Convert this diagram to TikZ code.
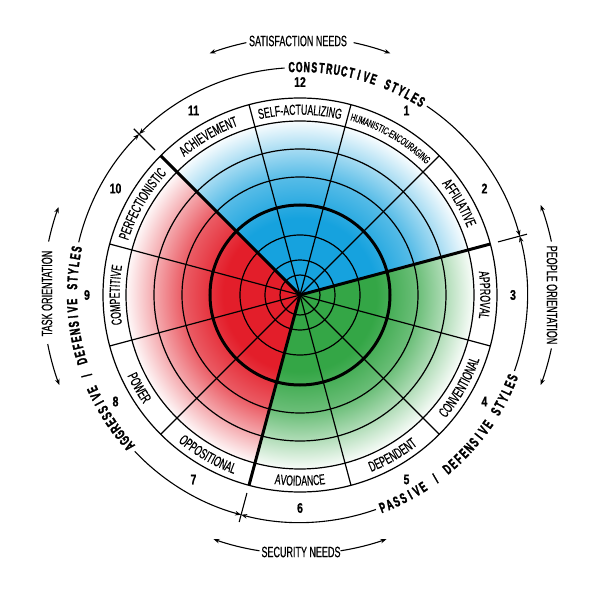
\documentclass[tikz,border=0pt]{standalone}
\usepackage{fontspec}
\usetikzlibrary{arrows.meta,decorations.text}
\newfontfamily\condfont[FakeStretch=0.6,FakeBold=0.4]{Liberation Sans}
\newfontfamily\heavyfont[FakeStretch=0.6,FakeBold=1.8,UprightFont={* Bold}]{Liberation Sans}
\newfontfamily\numfont[FakeStretch=0.75,FakeBold=0.6,UprightFont={* Bold}]{Liberation Sans}
\definecolor{cblue}{RGB}{22,162,222}
\definecolor{cred}{RGB}{227,30,42}
\definecolor{cgreen}{RGB}{52,166,70}
\pgfdeclareradialshading{bluesh}{\pgfpoint{0bp}{0bp}}{color(0bp)=(cblue); color(11bp)=(cblue); color(17bp)=(cblue!72!white); color(21bp)=(cblue!38!white); color(25bp)=(cblue!3!white); color(50bp)=(white)}
\pgfdeclareradialshading{redsh}{\pgfpoint{0bp}{0bp}}{color(0bp)=(cred); color(11bp)=(cred); color(17bp)=(cred!72!white); color(21bp)=(cred!38!white); color(25bp)=(cred!3!white); color(50bp)=(white)}
\pgfdeclareradialshading{greensh}{\pgfpoint{0bp}{0bp}}{color(0bp)=(cgreen); color(11bp)=(cgreen); color(17bp)=(cgreen!72!white); color(21bp)=(cgreen!38!white); color(25bp)=(cgreen!3!white); color(50bp)=(white)}
\newcommand\lblfont{\condfont\fontsize{14.5}{16}\selectfont}
\newcommand\tinylbl{\condfont\fontsize{10.5}{12}\selectfont}
% band label, reading clockwise (tops outward)
\newcommand\bandcw[4]{%
  \pgfmathsetmacro\bstart{#1+15}\pgfmathsetmacro\bend{#1-15}%
  \path[decorate,decoration={text along path,text align=center,text={|#3|#4}}]
    (\bstart:#2) arc[start angle=\bstart,end angle=\bend,radius=#2];}
% band label, reading counter-clockwise (tops inward)
\newcommand\bandccw[4]{%
  \pgfmathsetmacro\bstart{#1-15}\pgfmathsetmacro\bend{#1+15}%
  \path[decorate,decoration={text along path,text align=center,text={|#3|#4}}]
    (\bstart:#2) arc[start angle=\bstart,end angle=\bend,radius=#2];}
% spaced heavy letters on the outer arc
\newcommand\stylecw[4]{%
  \foreach \ch [count=\i] in {#4}{%
    \pgfmathsetmacro\ang{#2+((#3+1)/2-\i)*1.9}%
    \node[styletxt,rotate=\ang-90] (#1\i) at (\ang:228) {\ch};}}
\newcommand\styleccw[4]{%
  \foreach \ch [count=\i] in {#4}{%
    \pgfmathsetmacro\ang{#2-((#3+1)/2-\i)*1.9}%
    \node[styletxt,rotate=\ang+90] (#1\i) at (\ang:228) {\ch};}}
\begin{document}
\begin{tikzpicture}[x=1pt,y=1pt,
  gridline/.style={line width=1.2pt,black},
  boldline/.style={line width=3pt,black},
  outerarc/.style={line width=1.1pt,black},
  tip/.style={-{Stealth[length=6pt,width=4.5pt]}},
  styletxt/.style={font=\heavyfont\fontsize{14.5}{16}\selectfont,inner sep=0pt,anchor=center},
  numtxt/.style={font=\numfont\fontsize{14}{16}\selectfont,inner sep=0pt,anchor=center},
  needtxt/.style={font=\condfont\fontsize{15}{17}\selectfont,inner sep=0pt,anchor=center}]
\useasboundingbox (-300,-305) rectangle (300,295);
\fill[white] (-300,-305) rectangle (300,295);

% shaded sectors
\begin{scope}
  \clip (0,0) -- (15:174) arc[start angle=15,end angle=135,radius=174] -- cycle;
  \shade[shading=bluesh] (0,0) circle[radius=174];
\end{scope}
\begin{scope}
  \clip (0,0) -- (135:174) arc[start angle=135,end angle=255,radius=174] -- cycle;
  \shade[shading=redsh] (0,0) circle[radius=174];
\end{scope}
\begin{scope}
  \clip (0,0) -- (-105:174) arc[start angle=-105,end angle=15,radius=174] -- cycle;
  \shade[shading=greensh] (0,0) circle[radius=174];
\end{scope}

% grid
\foreach \r in {20,35,60,118,146,174,197} \draw[gridline] (0,0) circle[radius=\r];
\draw[boldline] (0,0) circle[radius=90];
\foreach \a in {15,45,...,345} \draw[gridline] (0,0) -- (\a:197);
\foreach \a in {15,135,255} \draw[boldline] (0,0) -- (\a:197);

% band labels
\bandcw{90}{180.3}{\lblfont}{SELF-ACTUALIZING}
\bandcw{60}{181.7}{\tinylbl}{HUMANISTIC-ENCOURAGING}
\bandcw{30}{180.3}{\lblfont}{AFFILIATIVE}
\bandcw{0}{180.3}{\lblfont}{APPROVAL}
\bandccw{-30}{190.7}{\lblfont}{CONVENTIONAL}
\bandccw{-60}{190.7}{\lblfont}{DEPENDENT}
\bandccw{-90}{190.7}{\lblfont}{AVOIDANCE}
\bandccw{-120}{190.7}{\lblfont}{OPPOSITIONAL}
\bandccw{-150}{190.7}{\lblfont}{POWER}
\bandcw{180}{180.3}{\lblfont}{COMPETITIVE}
\bandcw{150}{180.3}{\lblfont}{PERFECTIONISTIC}
\bandcw{120}{180.3}{\lblfont}{ACHIEVEMENT}

% numbers
\node[numtxt] (n12) at (90:213) {12};
\node[numtxt] (n1) at (60:213) {1};
\node[numtxt] (n2) at (30:213) {2};
\node[numtxt] (n3) at (0:213) {3};
\node[numtxt] (n4) at (-30:213) {4};
\node[numtxt] (n5) at (-60:213) {5};
\node[numtxt] (n6) at (-90:213) {6};
\node[numtxt] (n7) at (-120:213) {7};
\node[numtxt] (n8) at (-150:213) {8};
\node[numtxt] (n9) at (180:213) {9};
\node[numtxt] (n10) at (150:213) {10};
\node[numtxt] (n11) at (120:213) {11};

% style arcs with arrows to ticks
\draw[outerarc,tip] (93.9:227.5) arc[start angle=93.9,end angle=135,radius=227.5];
\draw[outerarc,tip] (56.1:227.5) arc[start angle=56.1,end angle=15,radius=227.5];
\draw[outerarc,tip] (-19.5:227.5) arc[start angle=-19.5,end angle=15,radius=227.5];
\draw[outerarc,tip] (-70.5:227.5) arc[start angle=-70.5,end angle=-105,radius=227.5];
\draw[outerarc,tip] (166.6:227.5) arc[start angle=166.6,end angle=135,radius=227.5];
\draw[outerarc,tip] (223.4:227.5) arc[start angle=223.4,end angle=255,radius=227.5];
\foreach \a in {15,135,255} \draw[outerarc] (\a:205) -- (\a:235);

% style titles
\stylecw{cs}{75}{19}{C,O,N,S,T,R,U,C,T,I,V,E,{},S,T,Y,L,E,S}
\styleccw{pd}{-45}{26}{P,A,S,S,I,V,E,{},\slash,{},D,E,F,E,N,S,I,V,E,{},S,T,Y,L,E,S}
\stylecw{ad}{195}{29}{A,G,G,R,E,S,S,I,V,E,{},\slash,{},D,E,F,E,N,S,I,V,E,{},S,T,Y,L,E,S}

% needs / orientation
\node[needtxt] (sat) at (-2,254) {SATISFACTION NEEDS};
\draw[outerarc,tip] (102:258) arc[start angle=102,end angle=110.5,radius=258];
\draw[outerarc,tip] (78:258) arc[start angle=78,end angle=69.5,radius=258];
\node[needtxt] (sec) at (1,-257) {SECURITY NEEDS};
\draw[outerarc,tip] (261:259) arc[start angle=261,end angle=250.5,radius=259];
\draw[outerarc,tip] (279:259) arc[start angle=279,end angle=289.5,radius=259];
\node[needtxt,rotate=90] (task) at (-253,1.5) {TASK ORIENTATION};
\draw[outerarc,tip] (168:257) arc[start angle=168,end angle=160,radius=257];
\draw[outerarc,tip] (191:257) arc[start angle=191,end angle=200.5,radius=257];
\node[needtxt,rotate=-90] (peo) at (252,0) {PEOPLE ORIENTATION};
\draw[outerarc,tip] (12:257) arc[start angle=12,end angle=20.5,radius=257];
\draw[outerarc,tip] (-12:257) arc[start angle=-12,end angle=-20.5,radius=257];
\end{tikzpicture}
\end{document}
